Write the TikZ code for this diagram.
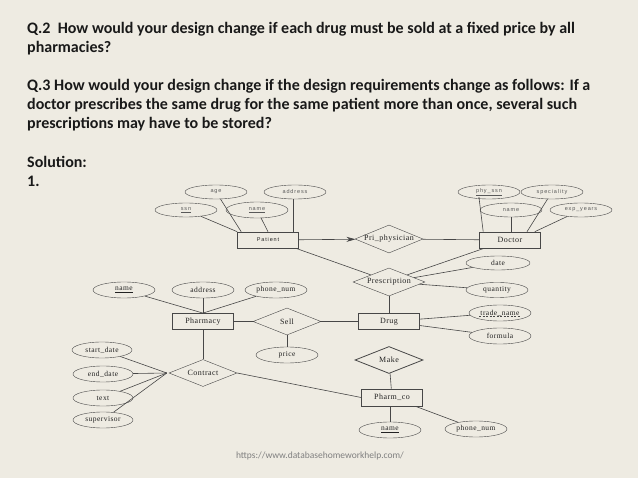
\documentclass[tikz,border=0pt]{standalone}
\usepackage{fontspec}
\setmainfont{Carlito}
\newfontfamily\erfont[LetterSpace=6]{Liberation Serif}
\newfontfamily\tinyfont[LetterSpace=16]{Liberation Sans}
\usetikzlibrary{shapes.geometric,arrows.meta}
\definecolor{slide}{HTML}{EEEBE2}
\definecolor{edge}{HTML}{474747}
\definecolor{ink}{HTML}{222222}

\begin{document}
\begin{tikzpicture}[x=1pt, y=-1pt,
    entity/.style={draw=edge, semithick, rectangle, minimum width=61pt, minimum height=16pt, inner sep=0pt, font=\erfont\fontsize{8}{9}\selectfont, text=ink},
    strong/.style={entity, thick},
    attr/.style={draw=edge, ellipse, minimum width=62pt, minimum height=15pt, inner sep=0pt, font=\erfont\fontsize{7.5}{9}\selectfont, text=ink},
    tinyattr/.style={attr, minimum height=14pt, font=\tinyfont\fontsize{5.5}{6}\selectfont, text=ink!75},
    rel/.style={draw=edge, diamond, aspect=2.5, minimum width=68pt, minimum height=27pt, inner sep=0pt, font=\erfont\fontsize{8}{9}\selectfont, text=ink},
    conn/.style={draw=edge, semithick},
    question/.style={anchor=base west, inner sep=0pt, font=\bfseries\fontsize{16}{19}\selectfont, text=black!90}]
        \fill[slide] (0, 0) rectangle (638, 478);

        \node[question] (q2a) at (27, 34) {Q.2\ \ How would your design change if each drug must be sold at a fixed price by all};
        \node[question] (q2b) at (27, 53) {pharmacies?};
        \node[question] (q3a) at (27, 91) {Q.3 How would your design change if the design requirements change as follows: If a};
        \node[question] (q3b) at (27, 110) {doctor prescribes the same drug for the same patient more than once, several such};
        \node[question] (q3c) at (27, 129) {prescriptions may have to be stored?};
        \node[question] (sol) at (27, 168) {Solution:};
        \node[question] (one) at (27, 187) {1.};

        \node[entity, font=\tinyfont\fontsize{5.5}{6}\selectfont] (patient) at (268, 240) {Patient};
        \node[entity] (doctor) at (510, 240) {Doctor};
        \node[strong] (pharmacy) at (203, 321.5) {Pharmacy};
        \node[strong] (drug) at (389, 321.5) {Drug};
        \node[entity, minimum height=17pt] (pharmco) at (392, 397.5) {Pharm\_co};

        \node[tinyattr] (age) at (216, 192) {age};
        \node[tinyattr] (paddress) at (295, 192) {address};
        \node[tinyattr] (ssn) at (186, 210) {\underline{ssn}};
        \node[tinyattr, minimum height=16pt] (pname) at (257, 210) {\underline{name}};
        \node[tinyattr] (physsn) at (489, 192) {\underline{phy\_ssn}};
        \node[tinyattr] (speciality) at (552, 192) {speciality};
        \node[tinyattr] (dname) at (511, 210) {name};
        \node[tinyattr] (expyears) at (581, 210) {exp\_years};

        \node[rel, minimum width=66pt, minimum height=28pt] (priphy) at (389, 239) {Pri\_physician};
        \node[rel, minimum width=72pt, minimum height=28pt] (prescription) at (389, 282) {Prescription};
        \node[rel] (sell) at (287, 321.5) {Sell};
        \node[rel] (contract) at (203, 373) {Contract};
        \node[rel, thick] (make) at (389, 360) {Make};

        \node[attr, minimum width=64pt, minimum height=14pt] (date) at (498, 263) {date};
        \node[attr] (quantity) at (497, 290) {quantity};
        \node[attr, minimum height=16pt] (tradename) at (500, 313) {trade\_name};
        \draw[edge, dash pattern=on 2pt off 1.5pt] ([xshift=-21pt, yshift=-3.5pt]tradename.center) -- ([xshift=21pt, yshift=-3.5pt]tradename.center);
        \node[attr, minimum height=16pt] (formula) at (500, 336) {formula};
        \node[attr, minimum height=16pt] (price) at (287, 355) {price};
        \node[attr, minimum height=16pt] (phname) at (124, 290) {\underline{name}};
        \node[attr, minimum height=16pt] (phaddress) at (203, 290) {address};
        \node[attr, minimum height=16pt] (phphone) at (276, 290) {phone\_num};
        \node[attr, minimum width=60pt, minimum height=16pt] (startdate) at (102, 350) {start\_date};
        \node[attr, minimum width=60pt, minimum height=16pt] (enddate) at (103, 374) {end\_date};
        \node[attr, minimum width=60pt, minimum height=16pt] (text) at (103, 398) {text};
        \node[attr, minimum width=60pt, minimum height=16pt] (supervisor) at (103, 420) {supervisor};
        \node[attr, minimum height=16pt] (pcname) at (390, 430) {\underline{name}};
        \node[attr, minimum height=16pt] (pcphone) at (476, 429) {phone\_num};

        \draw[conn] (age) -- ([xshift=4pt]patient.north west);
        \draw[conn] (paddress.south -| patient.north east) ++(-6, 0) -- ([xshift=-6pt]patient.north east);
        \draw[conn] (ssn) -- (patient.north west);
        \draw[conn] (pname) -- (patient.north);
        \draw[conn] (physsn.south west) ++(12, 0) -- ([xshift=4pt]doctor.north west);
        \draw[conn] (speciality) -- ([xshift=17pt]doctor.north);
        \draw[conn] (dname) -- (doctor.north -| dname);
        \draw[conn] (expyears) -- ([xshift=-6pt]doctor.north east);

        \draw[conn, -{Stealth[length=9pt, width=5pt]}] (patient) -- (priphy);
        \draw[conn] (priphy) -- (doctor);
        \draw[conn] ([xshift=-3pt]patient.south east) -- (prescription.north west);
        \draw[conn] ([xshift=5pt]doctor.south west) -- (prescription.north east);
        \draw[conn] (prescription) -- (date);
        \draw[conn] (prescription) -- (quantity);
        \draw[conn] (prescription) -- (drug);
        \draw[conn] (drug) -- (tradename);
        \draw[conn] (drug) -- (formula);

        \draw[conn] (pharmacy) -- (sell);
        \draw[conn] (sell) -- (drug);
        \draw[conn] (sell) -- (price);
        \draw[conn] (phname) -- (pharmacy.north);
        \draw[conn] (phaddress) -- (pharmacy.north);
        \draw[conn] (phphone) -- (pharmacy.north);
        \draw[conn] (pharmacy) -- (contract);

        \draw[conn] (startdate) -- ([xshift=-2pt]contract.west);
        \draw[conn] (enddate) -- ([xshift=-2pt]contract.west);
        \draw[conn] (text) -- ([xshift=-2pt]contract.west);
        \draw[conn] (supervisor) -- ([xshift=-2pt]contract.west);
        \draw[conn] (contract.east) -- (pharmco.west);
        \draw[conn] (make) -- (pharmco);
        \draw[conn] (pharmco.south -| pcname) -- (pcname);
        \draw[conn] (pharmco) -- (pcphone);

        \node[font=\fontsize{9.5}{11}\selectfont, text=black!50] (url) at (320, 456) {https://www.databasehomeworkhelp.com/};
\end{tikzpicture}
\end{document}
